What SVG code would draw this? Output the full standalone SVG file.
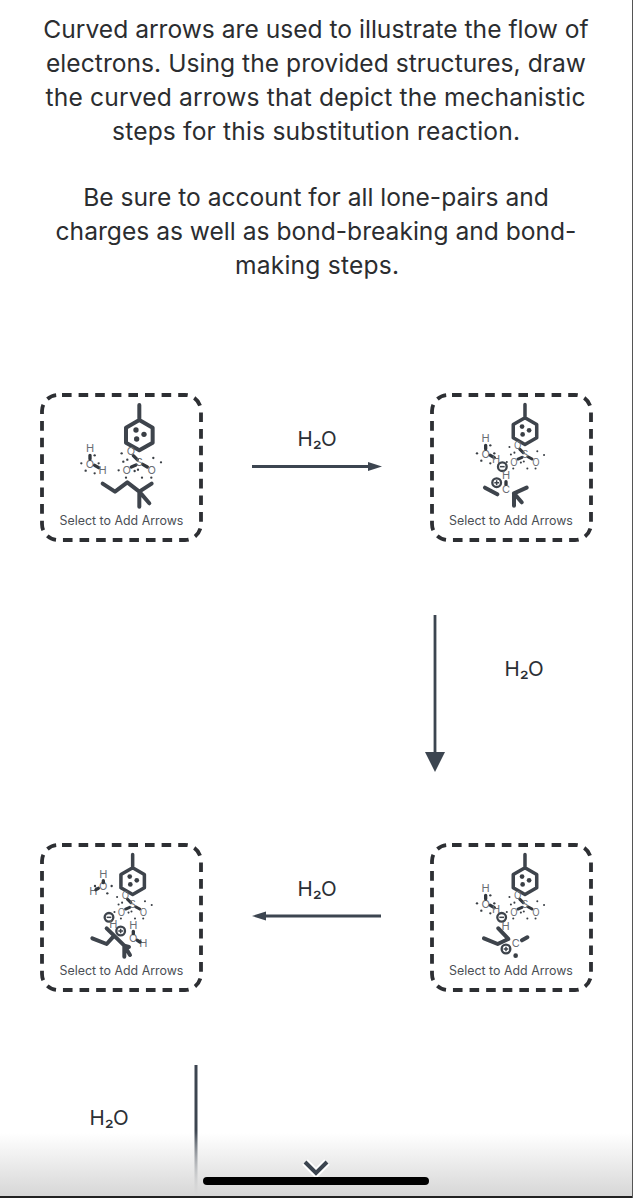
<svg xmlns="http://www.w3.org/2000/svg" width="633" height="1198" viewBox="0 0 633 1198">
<style>
text{font-family:Inter,"Liberation Sans",sans-serif}
.t{font-size:24.6px;fill:#2b2d30;text-anchor:middle}
.r{font-size:20.5px;fill:#2b2f35;text-anchor:middle}
.s{font-size:12.4px;fill:#4a4e54;text-anchor:middle}
.f{fill:none;stroke:#2d2f33;stroke-width:3.8;stroke-dasharray:9.6 7;stroke-dashoffset:-4;stroke-linecap:butt}
.sk{fill:none;stroke:#3e444c;stroke-width:12;stroke-linecap:round;stroke-linejoin:round}
.b{fill:none;stroke:#33383e;stroke-width:10;stroke-linecap:round}
.a{font-size:33px;fill:#6a6e74;text-anchor:middle}
.d{fill:#3a3f45}
.c{fill:#fff;stroke:#3e444c;stroke-width:7}
.m{stroke:#3e444c;stroke-width:4.500}
.l{stroke:#3c4550;stroke-width:2.800;fill:none}
.h{fill:#3c4550}
</style>
<defs>
<linearGradient id="fade" x1="0" y1="0" x2="0" y2="1"><stop offset="0" stop-color="#d6d6d6" stop-opacity="0"/><stop offset="1" stop-color="#d6d6d6"/></linearGradient>
<linearGradient id="lf" gradientUnits="userSpaceOnUse" x1="0" y1="1065" x2="0" y2="1195"><stop offset="0.5" stop-color="#3c4550"/><stop offset="1" stop-color="#3c4550" stop-opacity="0.1"/></linearGradient>
<g id="tos">
<path class="sk" d="M0-172V-127M0-127L40-104V-59L0-36L-40-59V-104Z"/>
<circle class="d" cx="-10" cy="-97" r="8"/><circle class="d" cx="14" cy="-84" r="8"/><circle class="d" cx="-8" cy="-70" r="8"/>
<path class="b" d="M-18-20L-6-8M-24 14L-10 8M10 6L24 14"/>
<text class="a" x="0" y="11">S</text><text class="a" x="-25" y="-21">O</text><text class="a" x="-38" y="36">O</text><text class="a" x="37" y="36">O</text>
<g class="d"><circle cx="-53" cy="-27" r="3.500"/><circle cx="-48" cy="-2" r="3.500"/><circle cx="-36" cy="-8" r="3.500"/><circle cx="-62" cy="24" r="3.500"/><circle cx="42" cy="-13" r="3.500"/><circle cx="65" cy="0" r="3.500"/><circle cx="-40" cy="46" r="3.500"/><circle cx="-14" cy="26" r="3.500"/><circle cx="8" cy="46" r="3.500"/><circle cx="-4" cy="22" r="3.500"/><circle cx="36" cy="46" r="3.500"/></g>
</g>
<g id="minus"><circle class="c" r="13"/><path class="m" d="M-7 0H7"/></g>
<g id="plus"><circle class="c" r="13"/><path class="m" d="M-7 0H7M0-7V7"/></g>
<g id="water"><text class="a" x="0" y="-36">H</text><text class="a" x="0" y="11">O</text><path class="b" d="M0-26V-15M14 4L26 11"/><g class="d"><circle cx="14" cy="-26" r="3.500"/><circle cx="-26" cy="-2" r="3.500"/><circle cx="-13" cy="20" r="3.500"/><circle cx="14" cy="28" r="3.500"/><circle cx="26" cy="-2" r="3.500"/></g></g>
</defs>
<rect width="633" height="1198" fill="#fff"/>
<g id="prompt">
<text class="t" x="316" y="38">Curved arrows are used to illustrate the flow of</text>
<text class="t" x="316" y="72" textLength="540">electrons. Using the provided structures, draw</text>
<text class="t" x="315.500" y="106" textLength="540">the curved arrows that depict the mechanistic</text>
<text class="t" x="316" y="140" textLength="408">steps for this substitution reaction.</text>
<text class="t" x="316" y="206">Be sure to account for all lone-pairs and</text>
<text class="t" x="316" y="240">charges as well as bond-breaking and bond-</text>
<text class="t" x="317" y="274" textLength="164">making steps.</text>
</g>
<g id="panel-1">
<rect class="f" x="42" y="395" width="159" height="145" rx="16"/>
<g transform="translate(30,385) scale(.3333)">
<use href="#tos" transform="translate(328,232)"/>
<use href="#water" transform="translate(180,237)"/>
<text class="a" x="218" y="268">H</text>
<path class="sk" d="M218 296L255 320L292 292L328 320L365 296M328 320V365M328 320L358 355"/>
</g>
<text class="s" x="121.500" y="525">Select to Add Arrows</text>
</g>
<g id="panel-2">
<rect class="f" x="432" y="395" width="159" height="145" rx="16"/>
<g transform="translate(420,385) scale(.3333)">
<use href="#tos" transform="translate(315,210) scale(.88)"/>
<use href="#water" transform="translate(197,207)"/>
<text class="a" x="228" y="233">H</text>
<use href="#minus" transform="translate(247,245)"/>
<use href="#plus" transform="translate(230,293)"/>
<text class="a" x="258" y="283">H</text><text class="a" x="258" y="323">C</text>
<path class="b" d="M258 290V298"/>
<path class="sk" d="M195 308L232 328M320 308L282 325M282 325V362M282 325L305 352"/>
</g>
<text class="s" x="511" y="525">Select to Add Arrows</text>
</g>
<g id="panel-3">
<rect class="f" x="42" y="845" width="159" height="145" rx="16"/>
<g transform="translate(30,835) scale(.3333)">
<use href="#tos" transform="translate(308,210) scale(.88)"/>
<text class="a" x="220" y="129">H</text><text class="a" x="220" y="164">O</text><text class="a" x="190" y="181">H</text>
<path class="b" d="M220 137V143M205 160L198 164"/>
<g class="d"><circle cx="245" cy="153" r="3.500"/><circle cx="195" cy="153" r="3.500"/><circle cx="232" cy="175" r="3.500"/></g>
<use href="#minus" transform="translate(237,247)"/>
<text class="a" x="250" y="278">H</text>
<use href="#plus" transform="translate(272,288)"/>
<text class="a" x="310" y="281">H</text><text class="a" x="310" y="321">O</text><text class="a" x="340" y="336">H</text>
<path class="b" d="M310 289V296M322 316L330 321"/>
<path class="sk" d="M187 310L230 327L250 305M230 280L283 332V365M283 332L300 360M283 332L297 336"/>
</g>
<text class="s" x="121.500" y="975">Select to Add Arrows</text>
</g>
<g id="panel-4">
<rect class="f" x="432" y="845" width="159" height="145" rx="16"/>
<g transform="translate(420,835) scale(.3333)">
<use href="#tos" transform="translate(315,210) scale(.88)"/>
<use href="#water" transform="translate(197,207)"/>
<text class="a" x="228" y="233">H</text>
<use href="#minus" transform="translate(245,247)"/>
<text class="a" x="257" y="284">H</text>
<use href="#plus" transform="translate(258,342)"/>
<text class="a" x="287" y="336">C</text>
<path class="sk" d="M192 310L233 327L265 312L235 280M306 316L322 307"/>
<circle class="d" cx="287" cy="362" r="7"/>
</g>
<text class="s" x="511" y="975">Select to Add Arrows</text>
</g>
<g id="connectors">
<path class="l" d="M252 466.500H370"/><path class="h" d="M382 466.500L368 462V471Z"/>
<path class="l" d="M435 615V755"/><path class="h" d="M425 752H445L435 772Z"/>
<path class="l" d="M381 916H264"/><path class="h" d="M252 916L266 911.500V920.500Z"/>
<path stroke="url(#lf)" stroke-width="3" fill="none" d="M196 1065V1195"/>
</g>
<g id="labels">
<text class="r" x="317" y="446">H₂O</text>
<text class="r" x="524" y="676">H₂O</text>
<text class="r" x="317" y="896">H₂O</text>
<text class="r" x="109" y="1125">H₂O</text>
</g>
<g id="screen-overlay">
<rect y="1133" width="633" height="64" fill="url(#fade)"/>
<path d="M0 1197H633" stroke="#222" stroke-width="2"/>
<path d="M632.500 0V1198" stroke="#555" stroke-width="1"/>
<path d="M305 1162L316 1173L327 1162" fill="none" stroke="#fff" stroke-width="8"/>
<path d="M305 1162L316 1173L327 1162" fill="none" stroke="#3c4550" stroke-width="4"/>
<rect x="203" y="1177" width="226" height="8" rx="4" fill="#000"/>
</g>
</svg>
